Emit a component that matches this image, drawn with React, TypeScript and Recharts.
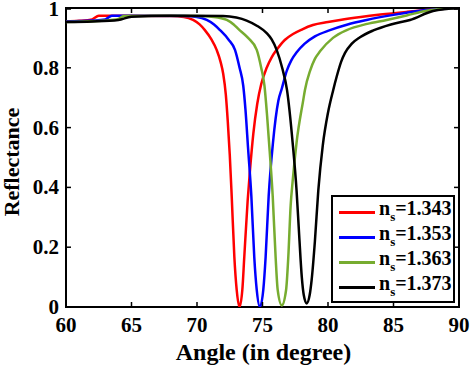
import { LineChart, Line, XAxis, YAxis, Legend, ReferenceArea } from "recharts";

// angle (deg) and reflectance, one pair of arrays per n_s
const redAngle = [60, 61, 62, 62.5, 65, 68, 69, 69.7, 70.2, 70.6, 71.1, 71.5, 71.8, 72.0, 72.2, 72.35, 72.5, 72.65, 72.85, 73.03, 73.24, 73.46, 73.61, 73.87, 74.05, 74.3, 74.6, 74.9, 75.32, 75.7, 76.08, 76.7, 77.33, 78.0, 78.85, 80.0, 80.92, 82.5, 84, 86, 87.5, 90];
const redR = [0.955, 0.957, 0.962, 0.974, 0.974, 0.973, 0.97, 0.96, 0.945, 0.926, 0.895, 0.86, 0.82, 0.78, 0.71, 0.62, 0.51, 0.37, 0.168, 0.057, 0.0, 0.057, 0.168, 0.358, 0.46, 0.58, 0.68, 0.745, 0.8, 0.835, 0.86, 0.893, 0.913, 0.928, 0.943, 0.953, 0.96, 0.97, 0.978, 0.987, 0.993, 1.0];

const blueAngle = [60, 62, 63, 63.5, 66, 69, 70, 70.74, 71.3, 71.76, 72.4, 72.9, 73.25, 73.53, 73.7, 73.9, 74.15, 74.37, 74.56, 74.8, 75.06, 75.24, 75.47, 75.8, 76.21, 76.47, 76.85, 77.2, 77.61, 78.2, 79.0, 80.15, 81.5, 82.95, 85, 87.5, 90];
const blueR = [0.955, 0.958, 0.962, 0.974, 0.974, 0.973, 0.97, 0.96, 0.945, 0.926, 0.895, 0.86, 0.8, 0.74, 0.66, 0.53, 0.37, 0.168, 0.057, 0.0, 0.057, 0.168, 0.37, 0.55, 0.69, 0.73, 0.79, 0.825, 0.852, 0.88, 0.905, 0.926, 0.945, 0.96, 0.977, 0.993, 1.0];

const greenAngle = [60, 63, 64, 64.4, 67, 70, 71.3, 72.27, 72.8, 73.15, 73.9, 74.56, 74.9, 75.15, 75.35, 75.55, 75.78, 76.0, 76.16, 76.47, 76.8, 76.97, 77.15, 77.3, 77.6, 78.11, 78.24, 78.63, 79.0, 79.39, 80.38, 81.43, 83, 84.48, 86, 87.5, 90];
const greenR = [0.953, 0.958, 0.963, 0.973, 0.974, 0.973, 0.97, 0.96, 0.945, 0.93, 0.9, 0.86, 0.8, 0.74, 0.64, 0.52, 0.37, 0.168, 0.057, 0.005, 0.057, 0.168, 0.34, 0.42, 0.55, 0.692, 0.726, 0.79, 0.83, 0.855, 0.9, 0.926, 0.947, 0.96, 0.975, 0.991, 1.0];

const blackAngle = [60, 62, 64, 65, 68, 72, 73, 73.79, 74.6, 75.32, 75.7, 76.08, 76.5, 76.87, 77.3, 77.6, 77.8, 78.0, 78.15, 78.37, 78.6, 78.75, 79.0, 79.26, 79.6, 80.0, 80.4, 80.66, 81.0, 81.3, 81.8, 82.44, 83.46, 84.8, 86.26, 88.02, 90];
const blackR = [0.953, 0.955, 0.96, 0.971, 0.974, 0.973, 0.968, 0.958, 0.94, 0.916, 0.895, 0.86, 0.8, 0.726, 0.55, 0.39, 0.24, 0.1, 0.04, 0.012, 0.04, 0.09, 0.22, 0.39, 0.54, 0.65, 0.726, 0.77, 0.82, 0.85, 0.88, 0.902, 0.925, 0.945, 0.96, 0.99, 1.0];

const nsLabels = ["1.343", "1.353", "1.363", "1.373"];
const colors = ["#ff0000", "#0000ff", "#77ac30", "#000000"];
const xTicks = [60, 65, 70, 75, 80, 85, 90];
const yTicks = [0, 0.2, 0.4, 0.6, 0.8, 1];

const zip = (a: number[], r: number[]) => a.map((v, i) => ({ a: v, r: r[i] }));
const series = [zip(redAngle, redR), zip(blueAngle, blueR), zip(greenAngle, greenR), zip(blackAngle, blackR)];

const W = 474, H = 366;
const TOP = 8, LEFT = 66, RIGHT = 459, BOTTOM = 307;
const font = { fontFamily: "'Liberation Serif', 'Times New Roman', serif", fontWeight: "bold" as const };

const XTick = (p: any) => {
  const { x, y, payload } = p;
  return (
    <g>
      <line x1={x} x2={x} y1={y} y2={y - 5} stroke="#000" strokeWidth={1.5} />
      <line x1={x} x2={x} y1={TOP} y2={TOP + 5} stroke="#000" strokeWidth={1.5} />
      <text x={x} y={y + 25} textAnchor="middle" fontSize={21} fill="#000" {...font}>{payload.value}</text>
    </g>
  );
};

const YTick = (p: any) => {
  const { x, y, payload } = p;
  return (
    <g>
      <line x1={x} x2={x + 5} y1={y} y2={y} stroke="#000" strokeWidth={1.5} />
      <line x1={RIGHT} x2={RIGHT - 5} y1={y} y2={y} stroke="#000" strokeWidth={1.5} />
      <text x={x - 7} y={y + 7} textAnchor="end" fontSize={21} fill="#000" {...font}>{payload.value}</text>
    </g>
  );
};

const LegendBox = (props: any) => (
  <div style={{ border: "2px solid #000", background: "#fff", width: 120, height: 101, boxSizing: "content-box", paddingTop: 3, ...font }}>
    {(props.payload || []).map((e: any) => (
      <div key={e.value} style={{ height: 25, display: "flex", alignItems: "center" }}>
        <span style={{ display: "inline-block", width: 36, height: 2.5, background: e.color, marginLeft: 6, marginRight: 4 }} />
        <span style={{ fontSize: 20, lineHeight: "20px", color: "#000" }}>
          n<sub style={{ fontSize: 13, verticalAlign: "-6px" }}>s</sub>={e.value}
        </span>
      </div>
    ))}
  </div>
);

export default function App() {
  return (
    <div style={{ width: W, height: H, background: "#fff" }}>
      <style>{`body{margin:0}`}</style>
      <LineChart width={W} height={H} margin={{ top: TOP, left: 16, right: W - RIGHT, bottom: 0 }}>
        <XAxis
          type="number"
          dataKey="a"
          domain={[60, 90]}
          ticks={xTicks}
          allowDataOverflow
          axisLine={false}
          tickLine={false}
          tickSize={0}
          tickMargin={0}
          height={H - BOTTOM}
          tick={<XTick />}
          label={{
            content: () => (
              <text x={(LEFT + RIGHT) / 2 + 1} y={BOTTOM + 53} textAnchor="middle" fontSize={24} fill="#000" {...font}>
                Angle (in degree)
              </text>
            ),
          }}
        />
        <YAxis
          type="number"
          dataKey="r"
          domain={[0, 1]}
          ticks={yTicks}
          allowDataOverflow
          axisLine={false}
          tickLine={false}
          tickSize={0}
          tickMargin={0}
          width={LEFT - 16}
          tick={<YTick />}
          label={{
            content: () => (
              <text x={19} y={162} transform="rotate(-90 19 162)" textAnchor="middle" fontSize={22} fill="#000" {...font}>
                Reflectance
              </text>
            ),
          }}
        />
        {series.map((d, i) => (
          <Line
            key={nsLabels[i]}
            data={d}
            dataKey="r"
            name={nsLabels[i]}
            type="monotone"
            stroke={colors[i]}
            strokeWidth={2.5}
            dot={false}
            activeDot={false}
            isAnimationActive={false}
          />
        ))}
        <ReferenceArea x1={60} x2={90} y1={0} y2={1} fill="none" stroke="#000" strokeWidth={2} ifOverflow="visible" />
        <Legend
          layout="vertical"
          align="center"
          verticalAlign="middle"
          content={<LegendBox />}
          wrapperStyle={{ position: "absolute", left: 331, top: 195, width: 124, height: 105 }}
        />
      </LineChart>
    </div>
  );
}
